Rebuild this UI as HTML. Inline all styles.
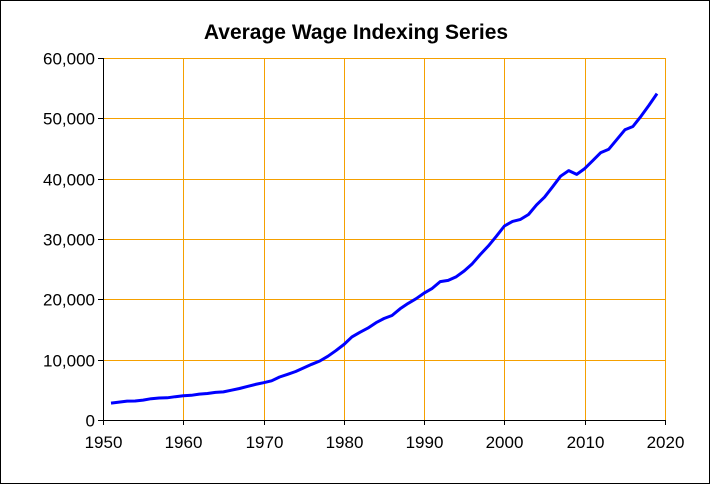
<!DOCTYPE html>
<html><head><meta charset="utf-8"><style>
html,body{margin:0;padding:0;background:#fff}
svg{display:block;font-family:"Liberation Sans",Arial,sans-serif}
</style></head><body>
<svg id="chart" width="710" height="484">
<rect x="0.5" y="0.5" width="709" height="483" fill="#fff" stroke="#000"/>
<text x="356" y="39" text-anchor="middle" font-size="21" font-weight="bold">Average Wage Indexing Series</text>
<g id="grid"></g>
<g id="axes"></g>
<path id="line" fill="none" stroke="#0000ff" stroke-width="3" stroke-linejoin="round"/>
</svg>
<script>
const years=[1951,1952,1953,1954,1955,1956,1957,1958,1959,1960,1961,1962,1963,1964,1965,1966,1967,1968,1969,1970,1971,1972,1973,1974,1975,1976,1977,1978,1979,1980,1981,1982,1983,1984,1985,1986,1987,1988,1989,1990,1991,1992,1993,1994,1995,1996,1997,1998,1999,2000,2001,2002,2003,2004,2005,2006,2007,2008,2009,2010,2011,2012,2013,2014,2015,2016,2017,2018,2019];
const wages=[2799,2973,3139,3156,3301,3532,3642,3674,3856,4007,4087,4291,4397,4576,4659,4938,5213,5572,5894,6186,6497,7134,7580,8031,8631,9226,9779,10556,11479,12513,13773,14531,15239,16135,16823,17322,18427,19334,20100,21028,21812,22935,23133,23754,24706,25914,27426,28861,30470,32155,32922,33252,34065,35649,36953,38651,40405,41335,40712,41674,42980,44322,44888,46481,48099,48642,50322,52146,54100];
const xTicks=[1950,1960,1970,1980,1990,2000,2010,2020];
const yTicks=[0,10000,20000,30000,40000,50000,60000];
const X0=103,X1=665,Y0=420,Y1=58;
const xs=v=>X0+(v-1950)/70*(X1-X0);
const ys=v=>Y0-v/60000*(Y0-Y1);
const NS='http://www.w3.org/2000/svg';
const grid=document.getElementById('grid'),axes=document.getElementById('axes');
function mk(tag,attrs,parent){const e=document.createElementNS(NS,tag);for(const k in attrs)e.setAttribute(k,attrs[k]);parent.appendChild(e);return e;}
xTicks.forEach(t=>{
  const x=Math.round(xs(t))+0.5;
  if(t>1950){const g=mk('line',{x1:x,x2:x,y1:Y1,y2:Y0,stroke:'#f5a000'},grid);
  
  }
  const tk=mk('line',{x1:x,x2:x,y1:Y0,y2:Y0+5,stroke:'#000'},axes);
  
  
  const l=mk('text',{x:x,y:Y0+28,'text-anchor':'middle','font-size':'17'},axes);
  l.textContent=t;
  
  
});
yTicks.forEach(t=>{
  const y=Math.round(ys(t))+0.5;
  if(t>0){const g=mk('line',{x1:X0,x2:X1,y1:y,y2:y,stroke:'#f5a000'},grid);
  
  }
  const tk=mk('line',{x1:X0-5,x2:X0,y1:y,y2:y,stroke:'#000'},axes);
  
  
  const l=mk('text',{x:X0-8,y:y+6,'text-anchor':'end','font-size':'17'},axes);
  l.textContent=t.toLocaleString('en-US');
  
  
});
const ax=mk('path',{d:`M${X0+0.5},${Y1} V${Y0+0.5} H${X1}`,fill:'none',stroke:'#000'},axes);


document.getElementById('line').setAttribute('d',years.map((yr,i)=>(i?'L':'M')+xs(yr).toFixed(1)+','+ys(wages[i]).toFixed(1)).join(' '));
</script>
</body></html>
